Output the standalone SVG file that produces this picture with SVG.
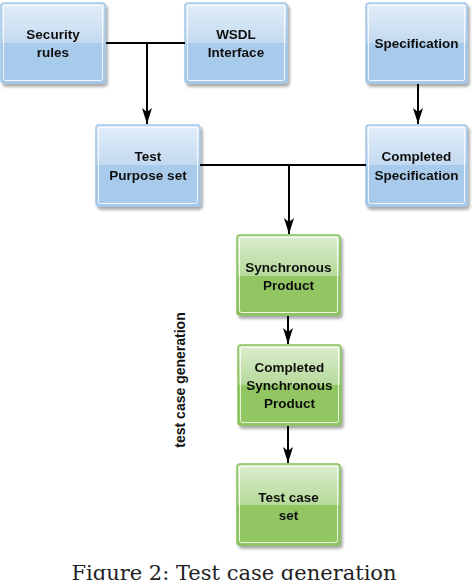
<svg xmlns="http://www.w3.org/2000/svg" width="472" height="580" viewBox="0 0 472 580">
<defs>
<linearGradient id="gb" x1="0" y1="0" x2="0" y2="1"><stop offset="0" stop-color="#e2edf9"/><stop offset="1" stop-color="#c4daf0"/></linearGradient>
<linearGradient id="gg" x1="0" y1="0" x2="0" y2="1"><stop offset="0" stop-color="#dbedcf"/><stop offset="1" stop-color="#b6da9a"/></linearGradient>
<filter id="sh" x="-10%" y="-10%" width="130%" height="130%"><feGaussianBlur in="SourceAlpha" stdDeviation="1.5"/><feOffset dx="2" dy="3"/><feComponentTransfer><feFuncA type="linear" slope="0.35"/></feComponentTransfer><feMerge><feMergeNode/><feMergeNode in="SourceGraphic"/></feMerge></filter>
<marker id="ar" viewBox="0 0 16 10" refX="16" refY="5" markerWidth="16" markerHeight="10" markerUnits="userSpaceOnUse" orient="auto">
<path d="M0,0 L4,5 L0,10 L16,5 Z" fill="#000"/>
</marker>
</defs>
<style>
.bb{fill:#a9cbeb}
.bt{fill:url(#gb)}
.bo{fill:none;stroke:#a3c6e7;stroke-width:1.5}
.gb{fill:#92c663}
.gt{fill:url(#gg)}
.go{fill:none;stroke:#86c059;stroke-width:1.5}
.in{fill:none;stroke:#ffffff;stroke-width:1;opacity:0.8}
.t{font-family:"Liberation Sans",Arial,sans-serif;font-weight:bold;font-size:13.5px;fill:#111;text-anchor:middle}
.c{fill:none;stroke:#000;stroke-width:2}
</style>

<g id="security-rules" filter="url(#sh)">
<rect class="bb" x="1" y="3" width="104" height="80" rx="3"/>
<path class="bt" d="M1,43 V6 a3,3 0 0 1 3,-3 H102 a3,3 0 0 1 3,3 V43 Z"/>
<rect class="bo" x="1" y="3" width="104" height="80" rx="3"/>
<rect class="in" x="3.5" y="5.5" width="99" height="75" rx="2"/>
<text class="t" x="53" y="39">Security</text>
<text class="t" x="53" y="57">rules</text>
</g>

<g id="wsdl-interface" filter="url(#sh)">
<rect class="bb" x="185" y="3" width="102" height="80" rx="3"/>
<path class="bt" d="M185,43 V6 a3,3 0 0 1 3,-3 H284 a3,3 0 0 1 3,3 V43 Z"/>
<rect class="bo" x="185" y="3" width="102" height="80" rx="3"/>
<rect class="in" x="187.5" y="5.5" width="97" height="75" rx="2"/>
<text class="t" x="236" y="39">WSDL</text>
<text class="t" x="236" y="57">Interface</text>
</g>

<g id="specification" filter="url(#sh)">
<rect class="bb" x="366" y="3" width="101" height="80" rx="3"/>
<path class="bt" d="M366,43 V6 a3,3 0 0 1 3,-3 H464 a3,3 0 0 1 3,3 V43 Z"/>
<rect class="bo" x="366" y="3" width="101" height="80" rx="3"/>
<rect class="in" x="368.5" y="5.5" width="96" height="75" rx="2"/>
<text class="t" x="416.5" y="48">Specification</text>
</g>

<g id="test-purpose-set" filter="url(#sh)">
<rect class="bb" x="96" y="125" width="104" height="81" rx="3"/>
<path class="bt" d="M96,165 V128 a3,3 0 0 1 3,-3 H197 a3,3 0 0 1 3,3 V165 Z"/>
<rect class="bo" x="96" y="125" width="104" height="81" rx="3"/>
<rect class="in" x="98.5" y="127.5" width="99" height="76" rx="2"/>
<text class="t" x="148" y="161">Test</text>
<text class="t" x="148" y="180">Purpose set</text>
</g>

<g id="completed-specification" filter="url(#sh)">
<rect class="bb" x="366" y="125" width="101" height="81" rx="3"/>
<path class="bt" d="M366,165 V128 a3,3 0 0 1 3,-3 H464 a3,3 0 0 1 3,3 V165 Z"/>
<rect class="bo" x="366" y="125" width="101" height="81" rx="3"/>
<rect class="in" x="368.5" y="127.5" width="96" height="76" rx="2"/>
<text class="t" x="416.5" y="161">Completed</text>
<text class="t" x="416.5" y="180">Specification</text>
</g>

<g id="synchronous-product" filter="url(#sh)">
<rect class="gb" x="237" y="235" width="103" height="80" rx="3"/>
<path class="gt" d="M237,276 V238 a3,3 0 0 1 3,-3 H337 a3,3 0 0 1 3,3 V276 Z"/>
<rect class="go" x="237" y="235" width="103" height="80" rx="3"/>
<rect class="in" x="239.5" y="237.5" width="98" height="75" rx="2"/>
<text class="t" x="288.5" y="272">Synchronous</text>
<text class="t" x="288.5" y="290">Product</text>
</g>

<g id="completed-synchronous-product" filter="url(#sh)">
<rect class="gb" x="238" y="345" width="103" height="80" rx="3"/>
<path class="gt" d="M238,385 V348 a3,3 0 0 1 3,-3 H338 a3,3 0 0 1 3,3 V385 Z"/>
<rect class="go" x="238" y="345" width="103" height="80" rx="3"/>
<rect class="in" x="240.5" y="347.5" width="98" height="75" rx="2"/>
<text class="t" x="289.5" y="372">Completed</text>
<text class="t" x="289.5" y="390">Synchronous</text>
<text class="t" x="289.5" y="408">Product</text>
</g>

<g id="test-case-set" filter="url(#sh)">
<rect class="gb" x="237" y="464" width="103" height="81" rx="3"/>
<path class="gt" d="M237,505 V467 a3,3 0 0 1 3,-3 H337 a3,3 0 0 1 3,3 V505 Z"/>
<rect class="go" x="237" y="464" width="103" height="81" rx="3"/>
<rect class="in" x="239.5" y="466.5" width="98" height="76" rx="2"/>
<text class="t" x="288.5" y="502">Test case</text>
<text class="t" x="288.5" y="520">set</text>
</g>

<g id="connectors">
<path class="c" d="M106,43 H185"/>
<path class="c" d="M147,43 V124" marker-end="url(#ar)"/>
<path class="c" d="M418,84 V124" marker-end="url(#ar)"/>
<path class="c" d="M200,165 H366"/>
<path class="c" d="M289,165 V234" marker-end="url(#ar)"/>
<path class="c" d="M288,316 V344" marker-end="url(#ar)"/>
<path class="c" d="M288,426 V463" marker-end="url(#ar)"/>
</g>

<text id="side-label" transform="translate(185,380) rotate(-90)" font-family="Liberation Sans, Arial, sans-serif" font-weight="bold" font-size="14" text-anchor="middle" fill="#111">test case generation</text>

<text id="caption" x="234" y="580" font-family="DejaVu Serif, serif" font-size="21" text-anchor="middle" fill="#222">Figure 2: Test case generation</text>
</svg>
